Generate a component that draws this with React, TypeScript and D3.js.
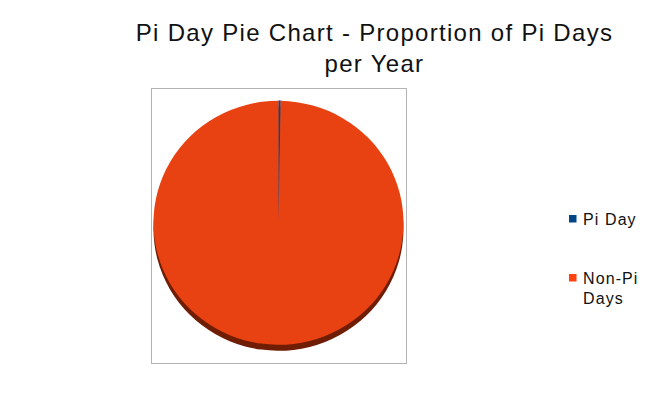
import React, { useEffect, useRef } from "react";
import * as d3 from "d3";

// Chart data
const CATEGORIES = ["Pi Day", "Non-Pi Days"];
const DAYS = [1, 364];
const LEGEND_LINES = [["Pi Day"], ["Non-Pi", "Days"]];
const TITLE_LINES = ["Pi Day Pie Chart - Proportion of Pi Days", "per Year"];

const FACE_COLORS = ["#0a4584", "#e94212"];
const SIDE_COLORS = ["#01264a", "#6f1d05"];
const LEGEND_COLORS = ["#004586", "#ff420e"];

const WIDTH = 663;
const HEIGHT = 401;

export default function App() {
  const svgRef = useRef<SVGSVGElement>(null);

  useEffect(() => {
    if (!svgRef.current) return;
    const svg = d3.select(svgRef.current);
    svg.selectAll("*").remove();

    const font = "'Liberation Sans', Arial, sans-serif";

    // Title (old-style hinted rendering is a bit wider, hence the spacing)
    svg
      .append("g")
      .selectAll("text")
      .data(TITLE_LINES)
      .join("text")
      .attr("x", 374.5)
      .attr("y", (_d, i) => 41 + i * 31)
      .attr("text-anchor", "middle")
      .attr("font-family", font)
      .attr("font-size", 24)
      .attr("letter-spacing", 1.3)
      .attr("fill", "#111")
      .text((d) => d);

    // Plot area frame
    svg
      .append("rect")
      .attr("x", 151.5)
      .attr("y", 88.5)
      .attr("width", 255)
      .attr("height", 275)
      .attr("fill", "#fff")
      .attr("stroke", "#b3b3b3")
      .attr("stroke-width", 1);

    const cx = 278.5;
    const cy = 222.8;
    const r = 125;
    const squash = 122 / 125;
    const depth = 6;

    const pie = d3
      .pie<number>()
      .sort(null)
      .value((d) => d)
      .startAngle(0)
      .endAngle(2 * Math.PI);
    const arcs = pie(DAYS);
    const arc = d3.arc<d3.PieArcDatum<number>>().innerRadius(0).outerRadius(r);

    // Side (3D depth)
    svg
      .append("g")
      .attr("transform", `translate(${cx},${cy + depth}) scale(1,${squash})`)
      .selectAll("path")
      .data(arcs)
      .join("path")
      .attr("d", arc)
      .attr("fill", (_d, i) => SIDE_COLORS[i]);

    // Top face
    svg
      .append("g")
      .attr("transform", `translate(${cx},${cy}) scale(1,${squash})`)
      .selectAll("path")
      .data(arcs)
      .join("path")
      .attr("d", arc)
      .attr("fill", (_d, i) => FACE_COLORS[i])
      .attr("stroke", (_d, i) => (i === 0 ? "#2a4a7a" : "none"))
      .attr("stroke-width", 0.6);

    // Legend
    const legend = svg
      .append("g")
      .selectAll("g")
      .data(CATEGORIES)
      .join("g")
      .attr("transform", (_d, i) => `translate(569,${215 + i * 59})`);

    legend
      .append("rect")
      .attr("x", 0)
      .attr("y", 0)
      .attr("width", 7.5)
      .attr("height", 7.5)
      .attr("fill", (_d, i) => LEGEND_COLORS[i]);

    legend
      .append("text")
      .attr("font-family", font)
      .attr("font-size", 16)
      .attr("letter-spacing", 1.1)
      .attr("fill", "#111")
      .selectAll("tspan")
      .data((_d, i) => LEGEND_LINES[i])
      .join("tspan")
      .attr("x", 14)
      .attr("y", (_d, j) => 10 + j * 20)
      .text((d) => d);
  }, []);

  return (
    <div style={{ position: "absolute", left: 0, top: 0 }}>
      <svg ref={svgRef} width={WIDTH} height={HEIGHT} style={{ display: "block", background: "#fff" }} />
    </div>
  );
}
